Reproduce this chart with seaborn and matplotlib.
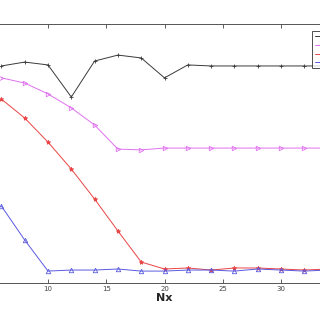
import numpy as np
import pandas as pd
import matplotlib
matplotlib.use("Agg")
import matplotlib.pyplot as plt
import seaborn as sns

nx = [6, 8, 10, 12, 14, 16, 18, 20, 22, 24, 26, 28, 30, 32, 34]
series_a = [0.838, 0.853, 0.842, 0.718, 0.857, 0.880, 0.869, 0.792, 0.842, 0.838, 0.838, 0.838, 0.838, 0.838, 0.838]
series_b = [0.792, 0.772, 0.730, 0.676, 0.610, 0.517, 0.514, 0.521, 0.521, 0.521, 0.521, 0.521, 0.521, 0.521, 0.521]
series_c = [0.710, 0.637, 0.544, 0.440, 0.324, 0.201, 0.081, 0.054, 0.058, 0.050, 0.058, 0.058, 0.054, 0.050, 0.054]
series_d = [0.297, 0.166, 0.046, 0.050, 0.050, 0.054, 0.046, 0.046, 0.050, 0.050, 0.046, 0.054, 0.050, 0.046, 0.050]
labels = ["Method 1", "Method 2", "Method 3", "Method 4"]

sns.set_style("white")
plt.rcParams['font.family'] = ['DejaVu Sans']

fig = plt.figure(figsize=(3.2, 3.2), dpi=100)
left_px, right_px = 48 - 6 * 11.65, 48 + 26 * 11.65
ax = fig.add_axes([left_px / 320, 1 - 283 / 320, (right_px - left_px) / 320, 259 / 320])

styles = [
    (series_a, "#3a3a3a", "+", "#3a3a3a"),
    (series_b, "#e070f0", ">", "none"),
    (series_c, "#e84444", "*", "#e84444"),
    (series_d, "#5a5ae0", "^", "none"),
]
for (vals, col, mk, fc), lab in zip(styles, labels):
    df = pd.DataFrame({"Nx": nx, "val": vals})
    sns.lineplot(data=df, x="Nx", y="val", ax=ax, color=col, marker=mk,
                 markersize=3.2, markerfacecolor=fc, markeredgecolor=col,
                 markeredgewidth=0.6, linewidth=0.7, label=lab)

ax.set_xlim(4, 36)
ax.set_ylim(0, 1)
ax.set_xticks([10, 15, 20, 25, 30])
ax.set_yticks([])
ax.tick_params(axis="x", direction="in", length=3, width=0.6, labelsize=5,
               top=True, bottom=True, pad=2, colors="#444444")
for s in ax.spines.values():
    s.set_color("#555555")
    s.set_linewidth(0.7)
ax.set_xlabel("Nx", fontsize=8, fontweight="bold", labelpad=1)
ax.set_ylabel("")

leg = ax.legend(loc="upper left", bbox_to_anchor=(309 / 320, 1 - 28 / 320),
                bbox_transform=fig.transFigure, fontsize=5, frameon=True,
                fancybox=False, borderpad=0.35, handlelength=2.2,
                labelspacing=0.38, markerscale=0.001)
leg.get_frame().set_edgecolor("#222222")
leg.get_frame().set_linewidth(0.7)

fig.savefig("out.png", dpi=100)
